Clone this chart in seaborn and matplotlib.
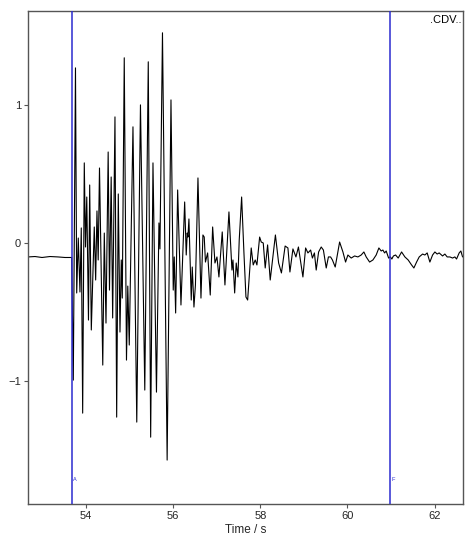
import numpy as np
import pandas as pd
import matplotlib
matplotlib.use("Agg")
import matplotlib.pyplot as plt
import seaborn as sns

# Seismogram samples (time in s, amplitude)
time_s = [52.670, 52.830, 52.991, 53.174, 53.358, 53.518, 53.672,
          53.709, 53.759, 53.787, 53.823, 53.862, 53.892, 53.924, 53.961, 53.989, 54.018,
          54.057, 54.085, 54.122, 54.190, 54.222, 54.252, 54.280, 54.310, 54.385, 54.420,
          54.459, 54.509, 54.539, 54.578, 54.612, 54.665, 54.704, 54.741, 54.780, 54.810,
          54.833, 54.878, 54.929, 54.959, 54.993, 55.078, 55.165, 55.250, 55.349, 55.429,
          55.484, 55.537, 55.617, 55.674, 55.697, 55.755, 55.862, 55.950, 56.002, 56.025,
          56.057, 56.103, 56.179, 56.264, 56.300, 56.323, 56.339, 56.362, 56.415, 56.438,
          56.477, 56.511, 56.569, 56.638, 56.683, 56.713, 56.741, 56.791, 56.851, 56.906,
          56.959, 57.005, 57.050, 57.126, 57.188, 57.280, 57.349, 57.372, 57.411, 57.447,
          57.486, 57.516, 57.571, 57.624, 57.670, 57.709, 57.791, 57.837, 57.883, 57.922,
          57.984, 58.021, 58.067, 58.112, 58.167, 58.227, 58.346, 58.420, 58.484, 58.569,
          58.633, 58.679, 58.748, 58.817, 58.874, 58.977, 59.039, 59.092, 59.154, 59.195,
          59.241, 59.282, 59.337, 59.397, 59.447, 59.512, 59.562, 59.612, 59.654, 59.718,
          59.819, 59.895, 59.956, 60.009, 60.085, 60.163, 60.239, 60.314, 60.376, 60.429,
          60.507, 60.583, 60.658, 60.720, 60.773, 60.812, 60.851, 60.888, 60.943, 60.984,
          61.018, 61.053, 61.103, 61.163, 61.241, 61.317, 61.392, 61.470, 61.523, 61.585,
          61.645, 61.723, 61.775, 61.828, 61.890, 61.952, 62.005, 62.057, 62.103, 62.181,
          62.234, 62.287, 62.349, 62.411, 62.463, 62.502, 62.562, 62.601, 62.640]
amplitude = [-0.101, -0.098, -0.105, -0.098, -0.101, -0.105, -0.105,
             -0.993, 1.268, -0.362, 0.036, -0.355, 0.109, -1.232, 0.580, -0.029, 0.333,
             -0.558, 0.420, -0.630, 0.116, -0.268, 0.232, -0.123, 0.543, -0.884, 0.072,
             -0.580, 0.659, -0.341, 0.478, -0.543, 0.913, -1.261, 0.355, -0.645, -0.123,
             -0.399, 1.341, -0.848, -0.312, -0.739, 0.841, -1.297, 1.000, -1.065, 1.312,
             -1.406, 0.580, -1.080, 0.145, -0.043, 1.522, -1.572, 1.036, -0.341, -0.101,
             -0.507, 0.384, -0.449, 0.297, -0.087, 0.072, 0.043, 0.174, -0.413, -0.174,
             -0.464, -0.304, 0.471, -0.399, 0.058, 0.043, -0.138, -0.072, -0.377, 0.116,
             -0.145, -0.101, -0.246, 0.080, -0.304, 0.225, -0.196, -0.123, -0.362, -0.145,
             -0.246, 0.022, 0.333, -0.072, -0.391, -0.413, -0.036, -0.159, -0.123, -0.159,
             0.043, 0.007, 0.000, -0.181, -0.014, -0.268, 0.058, -0.145, -0.217, -0.022,
             -0.036, -0.210, -0.043, -0.101, -0.029, -0.246, -0.036, -0.072, -0.051, -0.109,
             -0.072, -0.196, -0.065, -0.029, -0.051, -0.181, -0.101, -0.101, -0.123, -0.174,
             0.007, -0.065, -0.138, -0.087, -0.109, -0.094, -0.101, -0.087, -0.065, -0.101,
             -0.138, -0.123, -0.087, -0.036, -0.058, -0.051, -0.072, -0.058, -0.109, -0.101,
             -0.116, -0.094, -0.087, -0.109, -0.065, -0.101, -0.123, -0.159, -0.181, -0.138,
             -0.101, -0.080, -0.087, -0.072, -0.138, -0.087, -0.065, -0.080, -0.072, -0.094,
             -0.080, -0.101, -0.101, -0.109, -0.101, -0.116, -0.072, -0.058, -0.101]

pick_times = [53.67, 60.98]
pick_labels = ["A", "F"]
station_label = ".CDV.."
x_ticks = [54, 56, 58, 60, 62]
y_ticks = [-1, 0, 1]
x_limits = (52.67, 62.65)
y_limits = (-1.89, 1.68)

sns.set_style("ticks")
plt.rcParams["font.family"] = ["Liberation Sans", "DejaVu Sans"]

fig = plt.figure(figsize=(4.74, 5.41), dpi=100)
ax = fig.add_axes([0.0591, 0.0684, 0.9177, 0.9113])

df = pd.DataFrame({"time": time_s, "amp": amplitude})
sns.lineplot(data=df, x="time", y="amp", sort=False, estimator=None,
             color="black", linewidth=0.8, ax=ax)

pick_color = "#2b2bd0"
for t, lab in zip(pick_times, pick_labels):
    ax.axvline(t, color=pick_color, linewidth=1.1, zorder=3)
    ax.text(t + 0.03, -1.71, lab, color=pick_color, fontsize=4,
            ha="left", va="center")

ax.text(0.997, 0.992, station_label, transform=ax.transAxes,
        ha="right", va="top", fontsize=8, color="black")

ax.set_xlim(*x_limits)
ax.set_ylim(*y_limits)
ax.set_xticks(x_ticks)
ax.set_yticks(y_ticks)
ax.set_yticklabels(["\u22121", "0", "1"])
ax.set_xlabel("Time / s", fontsize=8.5, labelpad=2)
ax.set_ylabel("")
ax.tick_params(axis="both", labelsize=8, length=3, width=0.8,
               color="#555555", direction="out", pad=2)
for sp in ax.spines.values():
    sp.set_visible(True)
    sp.set_color("#555555")
    sp.set_linewidth(1.0)

fig.savefig("out.png", dpi=100, facecolor="white")
